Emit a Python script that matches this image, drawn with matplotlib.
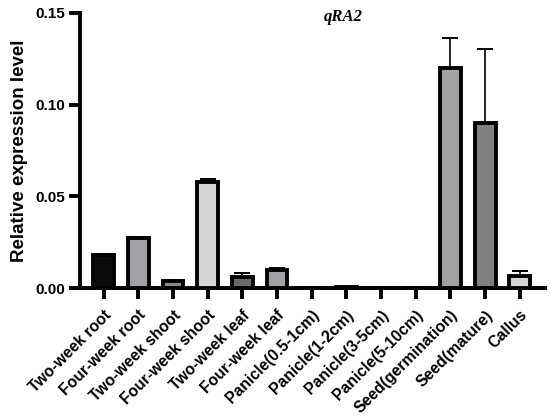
import matplotlib.pyplot as plt

categories = ['Two-week root', 'Four-week root', 'Two-week shoot', 'Four-week shoot',
              'Two-week leaf', 'Four-week leaf', 'Panicle(0.5-1cm)', 'Panicle(1-2cm)',
              'Panicle(3-5cm)', 'Panicle(5-10cm)', 'Seed(germination)', 'Seed(mature)',
              'Callus']
values = [0.0180, 0.0272, 0.0038, 0.0580, 0.0060, 0.0100, 0.0, 0.0005,
          0.0, 0.0, 0.1200, 0.0900, 0.0065]
errors = [0.0004, 0.0006, 0.0004, 0.0012, 0.0020, 0.0008, 0.0, 0.0001,
          0.0, 0.0, 0.0165, 0.0405, 0.0025]
colors = ['#0a0a0a', '#a2a2a6', '#8a8a8a', '#d6d6d6', '#6a6a6a', '#a2a2a6', 'white',
          'white', 'white', 'white', '#a2a2a6', '#808080', '#d6d6d6']

fig = plt.figure(figsize=(5.5, 4.18), dpi=100)
ax = fig.add_axes([0.1455, 0.311, 0.845, 0.658])

x = list(range(len(categories)))
ax.bar(x, values, width=0.6, color=colors, edgecolor='black', linewidth=2.8, zorder=3)
ax.errorbar(x, values, yerr=[[0] * len(errors), errors], fmt='none', ecolor='black',
            elinewidth=1.2, capsize=5.5, capthick=1.4, zorder=2)

ax.set_xlim(-0.68, 12.72)
ax.set_ylim(0, 0.15)
ax.set_yticks([0.00, 0.05, 0.10, 0.15])
ax.set_yticklabels(['0.00', '0.05', '0.10', '0.15'])
ax.set_xticks(x)
ax.set_xticklabels(categories, rotation=45, ha='right', rotation_mode='anchor')

for side in ['top', 'right']:
    ax.spines[side].set_visible(False)
for side in ['left', 'bottom']:
    ax.spines[side].set_linewidth(2.8)
ax.tick_params(axis='both', width=2.8, length=8)
ax.tick_params(axis='y', labelsize=11, pad=3)
ax.tick_params(axis='x', labelsize=11.3, pad=6)
for lab in ax.get_xticklabels() + ax.get_yticklabels():
    lab.set_fontweight('bold')
    lab.set_family('Liberation Sans')

ax.set_ylabel('Relative expression level', fontsize=13.5, fontweight='bold',
              family='Liberation Sans', labelpad=5)
ax.text(6.9, 0.148, 'qRA2', fontsize=12, fontweight='bold', style='italic',
        family='Liberation Serif', ha='center', va='center')

fig.savefig('out.png', dpi=100)
